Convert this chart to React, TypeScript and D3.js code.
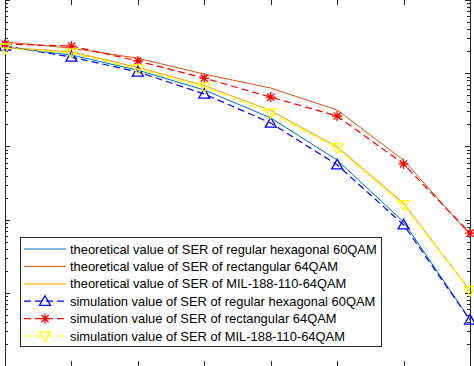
import React, { useRef, useEffect } from 'react';
import * as d3 from 'd3';

// SNR points (index along the x axis)
const snrIdx = [0, 1, 2, 3, 4, 5, 6, 7];

const theoryHex = [0.228, 0.177, 0.11, 0.059, 0.0245, 0.0065, 0.00093, 0.000043];
const theoryRect = [0.267, 0.22, 0.16, 0.097, 0.0627, 0.0314, 0.0065, 0.00062];
const theoryMil = [0.226, 0.195, 0.12, 0.068, 0.031, 0.0098, 0.00166, 0.000107];
const simHex = [0.235, 0.166, 0.104, 0.052, 0.0209, 0.0056, 0.00085, 0.0000424];
const simRect = [0.25, 0.235, 0.147, 0.0855, 0.0472, 0.026, 0.00576, 0.000654];
const simMil = [0.22, 0.189, 0.114, 0.0647, 0.0286, 0.0095, 0.0016, 0.000107];

const legendLabels = [
  'theoretical value of SER of regular hexagonal 60QAM',
  'theoretical value of SER of rectangular 64QAM',
  'theoretical value of SER of MIL-188-110-64QAM',
  'simulation value of SER of regular hexagonal 60QAM',
  'simulation value of SER of rectangular 64QAM',
  'simulation value of SER of MIL-188-110-64QAM',
];

type Series = { values: number[]; color: string; dashed: boolean; marker: string | null; width: number };

const series: Series[] = [
  { values: theoryHex, color: '#0072BD', dashed: false, marker: null, width: 1 },
  { values: theoryRect, color: '#D95319', dashed: false, marker: null, width: 1 },
  { values: theoryMil, color: '#EDB120', dashed: false, marker: null, width: 1.2 },
  { values: simHex, color: '#0000FF', dashed: true, marker: 'up', width: 1.2 },
  { values: simRect, color: '#FF0000', dashed: true, marker: 'star', width: 1.2 },
  { values: simMil, color: '#FFFF00', dashed: true, marker: 'down', width: 1.2 },
];

const W = 474;
const H = 366;

function drawMarker(g: any, kind: string, x: number, y: number, color: string) {
  if (kind === 'up') {
    const s = 5.5;
    g.append('path')
      .attr('d', `M${x},${y - s}L${x + s},${y + s * 0.75}L${x - s},${y + s * 0.75}Z`)
      .attr('fill', 'none').attr('stroke', color).attr('stroke-width', 1.3);
  } else if (kind === 'down') {
    const s = 5.5;
    g.append('path')
      .attr('d', `M${x},${y + s}L${x + s},${y - s * 0.75}L${x - s},${y - s * 0.75}Z`)
      .attr('fill', 'none').attr('stroke', color).attr('stroke-width', 1.3);
  } else if (kind === 'star') {
    const s = 5;
    const d = s * 0.72;
    g.append('path')
      .attr('d', `M${x - s},${y}L${x + s},${y}M${x},${y - s}L${x},${y + s}M${x - d},${y - d}L${x + d},${y + d}M${x - d},${y + d}L${x + d},${y - d}`)
      .attr('fill', 'none').attr('stroke', color).attr('stroke-width', 1.3);
  }
}

export default function App() {
  const ref = useRef<SVGSVGElement>(null);

  useEffect(() => {
    if (!ref.current) return;
    const svg = d3.select(ref.current);
    svg.selectAll('*').remove();

    const x = d3.scaleLinear().domain([0, 7]).range([5, 470]);
    const y = d3.scaleLog().domain([1, 1e-5]).range([0, 366]);

    svg.append('rect').attr('width', W).attr('height', H).attr('fill', '#fff');

    const axisColor = '#262626';
    const ax = svg.append('g').attr('stroke', axisColor).attr('stroke-width', 1).attr('fill', 'none');
    ax.append('line').attr('x1', 5.5).attr('x2', 5.5).attr('y1', 0).attr('y2', H);
    ax.append('line').attr('x1', 470.5).attr('x2', 470.5).attr('y1', 0).attr('y2', H);

    // x ticks, top and bottom, pointing inward
    snrIdx.slice(1, -1).forEach(i => {
      const xx = Math.round(x(i)) + 0.5;
      ax.append('line').attr('x1', xx).attr('x2', xx).attr('y1', 0).attr('y2', 5);
      ax.append('line').attr('x1', xx).attr('x2', xx).attr('y1', H - 5).attr('y2', H);
    });

    // log y ticks
    const ticks: { v: number; major: boolean }[] = [];
    for (let e = -5; e <= 0; e++) {
      for (let m = 1; m <= 9; m++) {
        const v = m * Math.pow(10, e);
        if (v <= 1 && v >= 1e-5) ticks.push({ v, major: m === 1 });
      }
    }
    ticks.forEach(t => {
      const yy = Math.round(y(t.v)) + 0.5;
      const len = t.major ? 5 : 3;
      ax.append('line').attr('x1', 5).attr('x2', 5 + len).attr('y1', yy).attr('y2', yy);
      ax.append('line').attr('x1', 470 - len).attr('x2', 471).attr('y1', yy).attr('y2', yy);
    });

    const line = d3.line<number>()
      .x((_, i) => x(snrIdx[i]))
      .y(d => y(d));

    const plot = svg.append('g');
    series.forEach(s => {
      plot.append('path')
        .datum(s.values)
        .attr('fill', 'none')
        .attr('stroke', s.color)
        .attr('stroke-width', s.width)
        .attr('stroke-dasharray', s.dashed ? '7,4' : null)
        .attr('d', line);
      if (s.marker) {
        s.values.forEach((v, i) => drawMarker(plot, s.marker as string, x(snrIdx[i]), y(v), s.color));
      }
    });

    // legend
    const lg = svg.append('g');
    lg.append('rect')
      .attr('x', 20.5).attr('y', 237.5).attr('width', 361).attr('height', 109)
      .attr('fill', '#fff').attr('stroke', axisColor).attr('stroke-width', 1);
    legendLabels.forEach((label, i) => {
      const s = series[i];
      const ly = 249 + i * 17.4;
      lg.append('line')
        .attr('x1', 24).attr('x2', 66).attr('y1', ly).attr('y2', ly)
        .attr('stroke', s.color).attr('stroke-width', s.width)
        .attr('stroke-dasharray', s.dashed ? '7,4' : null);
      if (s.marker) drawMarker(lg, s.marker, 45, ly, s.color);
      lg.append('text')
        .attr('x', 70).attr('y', ly)
        .attr('dy', '0.35em')
        .attr('font-family', 'Liberation Sans, Arial, sans-serif')
        .attr('font-size', 12.9)
        .attr('fill', '#000')
        .text(label);
    });
  }, []);

  return (
    <svg
      ref={ref}
      width={W}
      height={H}
      style={{ position: 'fixed', left: 0, top: 0, display: 'block' }}
    />
  );
}
